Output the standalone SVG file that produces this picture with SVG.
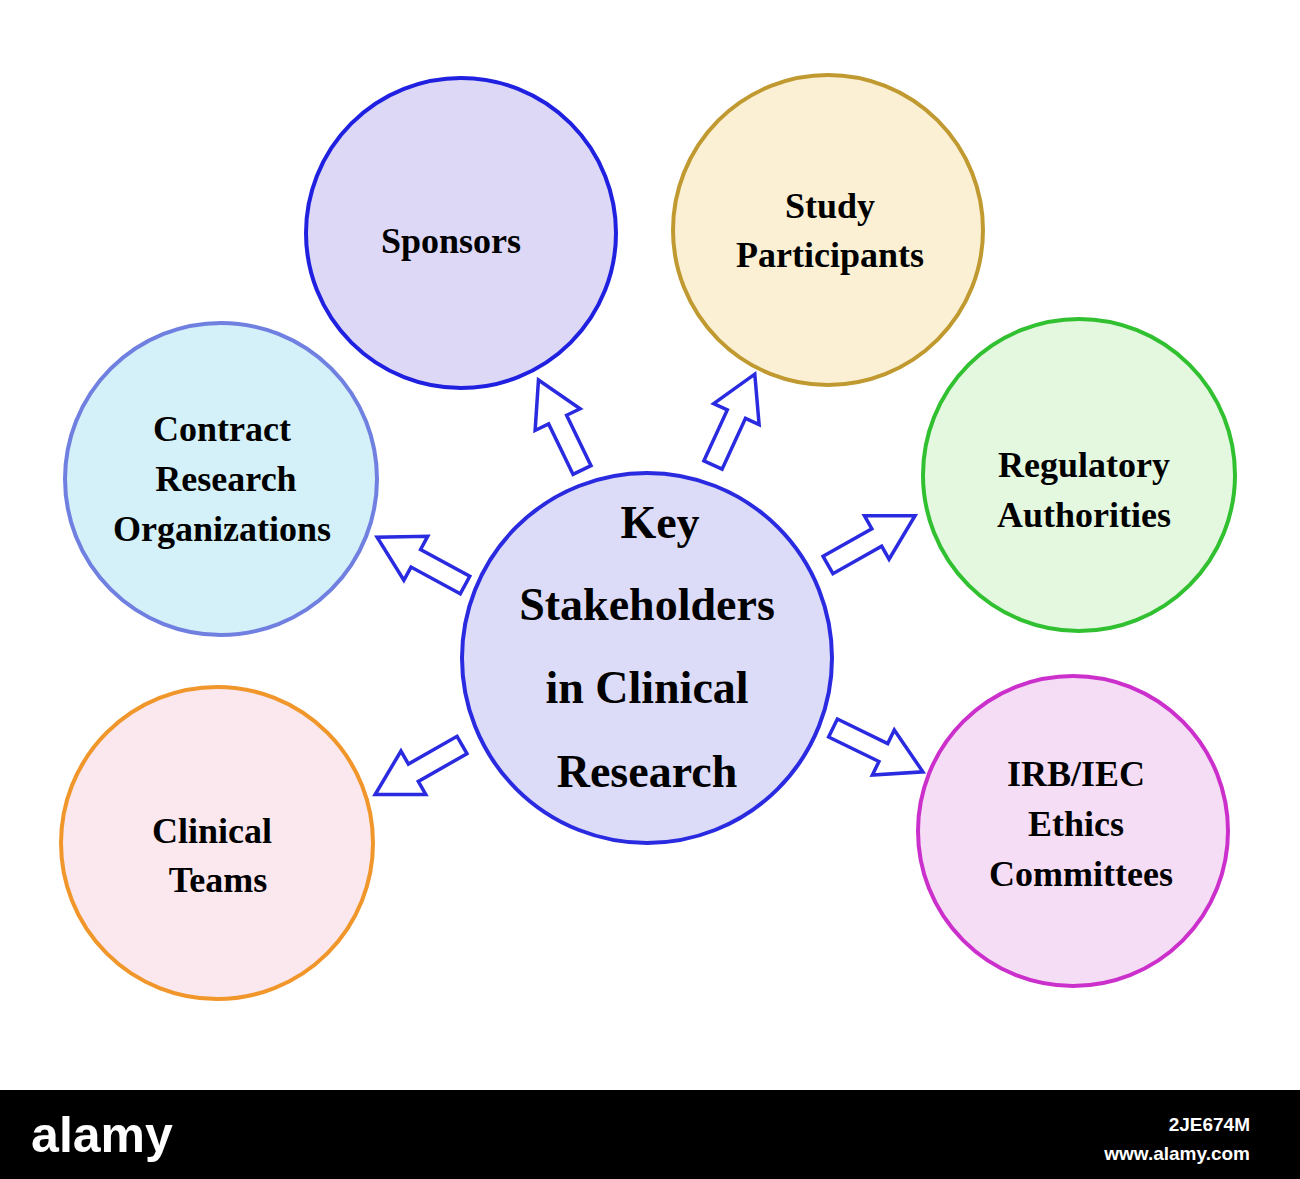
<svg xmlns="http://www.w3.org/2000/svg" width="1300" height="1179" viewBox="0 0 1300 1179">
<style>
text{font-family:"Liberation Serif","Times New Roman",serif;font-weight:bold;fill:#000;text-anchor:middle}
.o{font-size:36px}
.c{font-size:46px}
circle{stroke-width:4}
.ar{fill:#fff;stroke:#2a2ae0;stroke-width:3.5;stroke-linejoin:miter}
</style>
<defs>
<polygon id="arr" points="0,-10 56,-10 56,-25 100,0 56,25 56,10 0,10"/>
</defs>
<rect width="1300" height="1179" fill="#fff"/>
<g id="connectors">
<use href="#arr" class="ar" transform="translate(582,470) rotate(-115.8)"/>
<use href="#arr" class="ar" transform="translate(713,465) rotate(-65.3)"/>
<use href="#arr" class="ar" transform="translate(465,585) rotate(-151.5)"/>
<use href="#arr" class="ar" transform="translate(828,565) rotate(-29.5)"/>
<use href="#arr" class="ar" transform="translate(462,745) rotate(150.3)"/>
<use href="#arr" class="ar" transform="translate(833,728) rotate(26)"/>
</g>
<g id="sponsors"><circle cx="461" cy="233" r="155" fill="#dcd8f5" stroke="#2020e0"/><text class="o" x="451" y="253">Sponsors</text></g>
<g id="study"><circle cx="828" cy="230" r="155" fill="#fbf0d4" stroke="#c09a30"/><text class="o" x="830" y="218">Study</text><text class="o" x="830" y="267">Participants</text></g>
<g id="cro"><circle cx="221" cy="479" r="156" fill="#d4f0f8" stroke="#7080e0"/><text class="o" x="222" y="441">Contract</text><text class="o" x="226" y="491">Research</text><text class="o" x="222" y="541">Organizations</text></g>
<g id="regulatory"><circle cx="1079" cy="475" r="156" fill="#e4f8e0" stroke="#30c030"/><text class="o" x="1084" y="477">Regulatory</text><text class="o" x="1084" y="527">Authorities</text></g>
<g id="clinical"><circle cx="217" cy="843" r="156" fill="#fbe8ee" stroke="#f0962a"/><text class="o" x="212" y="843">Clinical</text><text class="o" x="218" y="892">Teams</text></g>
<g id="irb"><circle cx="1073" cy="831" r="155" fill="#f5def5" stroke="#cc30cc"/><text class="o" x="1076" y="786">IRB/IEC</text><text class="o" x="1076" y="836">Ethics</text><text class="o" x="1081" y="886">Committees</text></g>
<g id="center"><circle cx="647" cy="658" r="185" fill="#dcdcf8" stroke="#2a2ae0"/><text class="c" x="660" y="538">Key</text><text class="c" x="647" y="620">Stakeholders</text><text class="c" x="647" y="703">in Clinical</text><text class="c" x="647" y="787">Research</text></g>
<g id="banner"><rect x="0" y="1090" width="1300" height="89" fill="#000"/>
<text x="102" y="1152" style="fill:#fff;font-family:'Liberation Sans',Arial,sans-serif;font-size:50px;font-weight:bold">alamy</text>
<text x="1250" y="1131" style="fill:#fff;font-family:'Liberation Sans',Arial,sans-serif;font-size:19px;text-anchor:end">2JE674M</text>
<text x="1250" y="1160" style="fill:#fff;font-family:'Liberation Sans',Arial,sans-serif;font-size:19px;text-anchor:end">www.alamy.com</text></g>
</svg>
